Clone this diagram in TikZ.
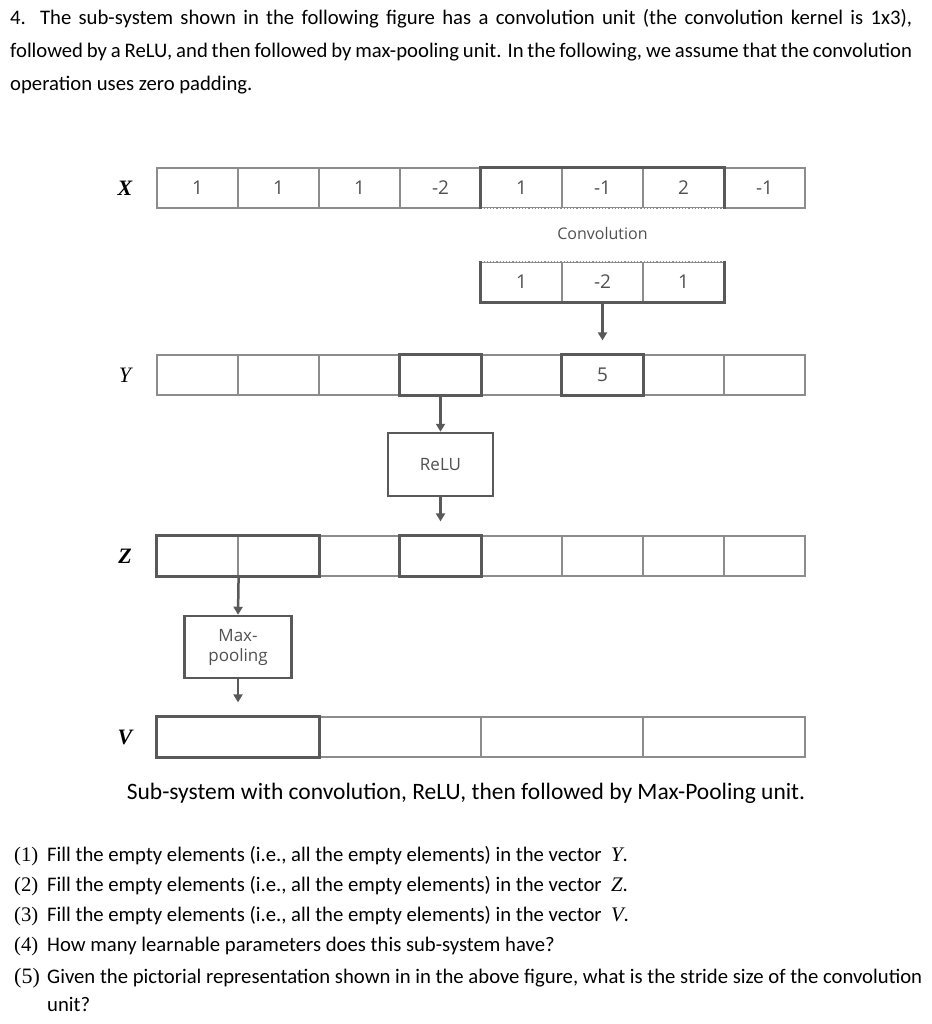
\documentclass[tikz,border=0pt]{standalone}
\usepackage{fontspec}
\setmainfont{Carlito}
\newfontfamily\diagfont{Open Sans}
\newfontfamily\numfont{Liberation Serif}
\usetikzlibrary{arrows.meta}

\definecolor{gridgray}{HTML}{8C8C8C}
\definecolor{boxgray}{HTML}{595959}
\definecolor{labelgray}{HTML}{505050}

\begin{document}
\begin{tikzpicture}[x=1pt, y=-1pt,
    cell/.style = {rectangle, draw = gridgray, line width = 1.2pt, minimum width = 81pt, minimum height = 40pt, inner sep = 0pt, font = \diagfont\fontsize{19}{22}\selectfont, text = labelgray},
    widecell/.style = {cell, minimum width = 162pt},
    thickbox/.style = {draw = boxgray, line width = 3.5pt},
    unitbox/.style = {rectangle, draw = boxgray, line width = 2.5pt, inner sep = 0pt, align = center, font = \diagfont\fontsize{17}{20}\selectfont, text = labelgray},
    flow/.style = {-{Triangle[width = 9pt, length = 8pt]}, draw = boxgray, line width = 2.5pt},
    veclabel/.style = {font = \numfont\fontsize{22}{26}\selectfont\itshape},
    textline/.style = {anchor = base west, inner sep = 0pt, font = \fontsize{20.7}{33}\selectfont}
  ]
  \useasboundingbox (0,0) rectangle (931,1024);

  % Question text
  \node[textline, text width = 902pt, align = justify] (intro) at (10,25) {4. The sub-system shown in the following figure has a convolution unit (the convolution kernel is 1x3),\linebreak followed by a ReLU, and then followed by max-pooling unit. In the following, we assume that the convolution\linebreak operation uses zero padding.};

  % Vectors
  \foreach \v [count=\i] in {1,1,1,-2,1,-1,2,-1}
    \node[cell] (x\i) at ({116.5+81*\i}, 188) {\v};
  \foreach \v [count=\i] in {{},{},{},{},{},5,{},{}}
    \node[cell] (y\i) at ({116.5+81*\i}, 375) {\v};
  \foreach \i in {1,...,8}
    \node[cell] (z\i) at ({116.5+81*\i}, 556) {};
  \foreach \i in {1,...,4}
    \node[widecell] (v\i) at ({76+162*\i}, 737) {};
  \foreach \v [count=\i] in {1,-2,1}
    \node[cell] (k\i) at ({440.5+81*\i}, 282) {\v};

  \node[veclabel] (xlabel) at (125,188) {\bfseries X};
  \node[veclabel] (ylabel) at (125,375) {Y};
  \node[veclabel] (zlabel) at (125,556) {\bfseries Z};
  \node[veclabel] (vlabel) at (125,737) {\bfseries V};

  % Convolution window and kernel
  \draw[white, line width = 1.6pt] (x5.south west) -- (x7.south east);
  \draw[gridgray, dotted, line width = 1.2pt] (x5.south west) -- (x7.south east);
  \draw[white, line width = 1.6pt] (k1.north west) -- (k3.north east);
  \draw[gridgray, dotted, line width = 1.2pt] (k1.north west) -- (k3.north east);
  \draw[thickbox] (x5.south west) -- (x5.north west) -- (x7.north east) -- (x7.south east);
  \draw[thickbox] (k1.north west) -- (k1.south west) -- (k3.south east) -- (k3.north east);
  \node[font = \diagfont\fontsize{16}{19}\selectfont, text = labelgray] (convlabel) at (602.5,234) {Convolution};
  \draw[flow, shorten >= 14pt] (k2.south) -- (y6.north);

  % ReLU
  \draw[thickbox] (y4.north west) rectangle (y4.south east);
  \draw[thickbox] (y6.north west) rectangle (y6.south east);
  \node[unitbox, minimum width = 105pt, minimum height = 63pt] (relu) at (440.5,464.5) {ReLU};
  \draw[flow] (y4.south) -- (relu.north);
  \draw[flow, shorten >= 14pt] (relu.south) -- (z4.north);

  % Max-pooling
  \draw[thickbox] (z1.north west) rectangle (z2.south east);
  \draw[thickbox] (z4.north west) rectangle (z4.south east);
  \node[unitbox, minimum width = 107pt, minimum height = 62pt] (maxpool) at (238,647) {Max-\\pooling};
  \draw[flow] (z1.south east) -- (maxpool.north);
  \draw[flow, shorten >= 14pt] (maxpool.south) -- (v1.north);
  \draw[thickbox] (v1.north west) rectangle (v1.south east);

  \node[font = \fontsize{23.5}{28}\selectfont] (caption) at (466,793) {Sub-system with convolution, ReLU, then followed by Max-Pooling unit.};

  % Questions
  \node[textline] (q1) at (14,861) {\makebox[33pt][l]{\numfont(1)}Fill the empty elements (i.e., all the empty elements) in the vector \ {\numfont\itshape Y}.};
  \node[textline] (q2) at (14,891) {\makebox[33pt][l]{\numfont(2)}Fill the empty elements (i.e., all the empty elements) in the vector \ {\numfont\itshape Z}.};
  \node[textline] (q3) at (14,921) {\makebox[33pt][l]{\numfont(3)}Fill the empty elements (i.e., all the empty elements) in the vector \ {\numfont\itshape V}.};
  \node[textline] (q4) at (14,951) {\makebox[33pt][l]{\numfont(4)}How many learnable parameters does this sub-system have?};
  \node[textline] (q5) at (14,983) {\makebox[33pt][l]{\numfont\fontsize{22}{26}\selectfont(5)}Given the pictorial representation shown in in the above figure, what is the stride size of the convolution};
  \node[textline] (q5b) at (47,1011) {unit?};
\end{tikzpicture}
\end{document}
